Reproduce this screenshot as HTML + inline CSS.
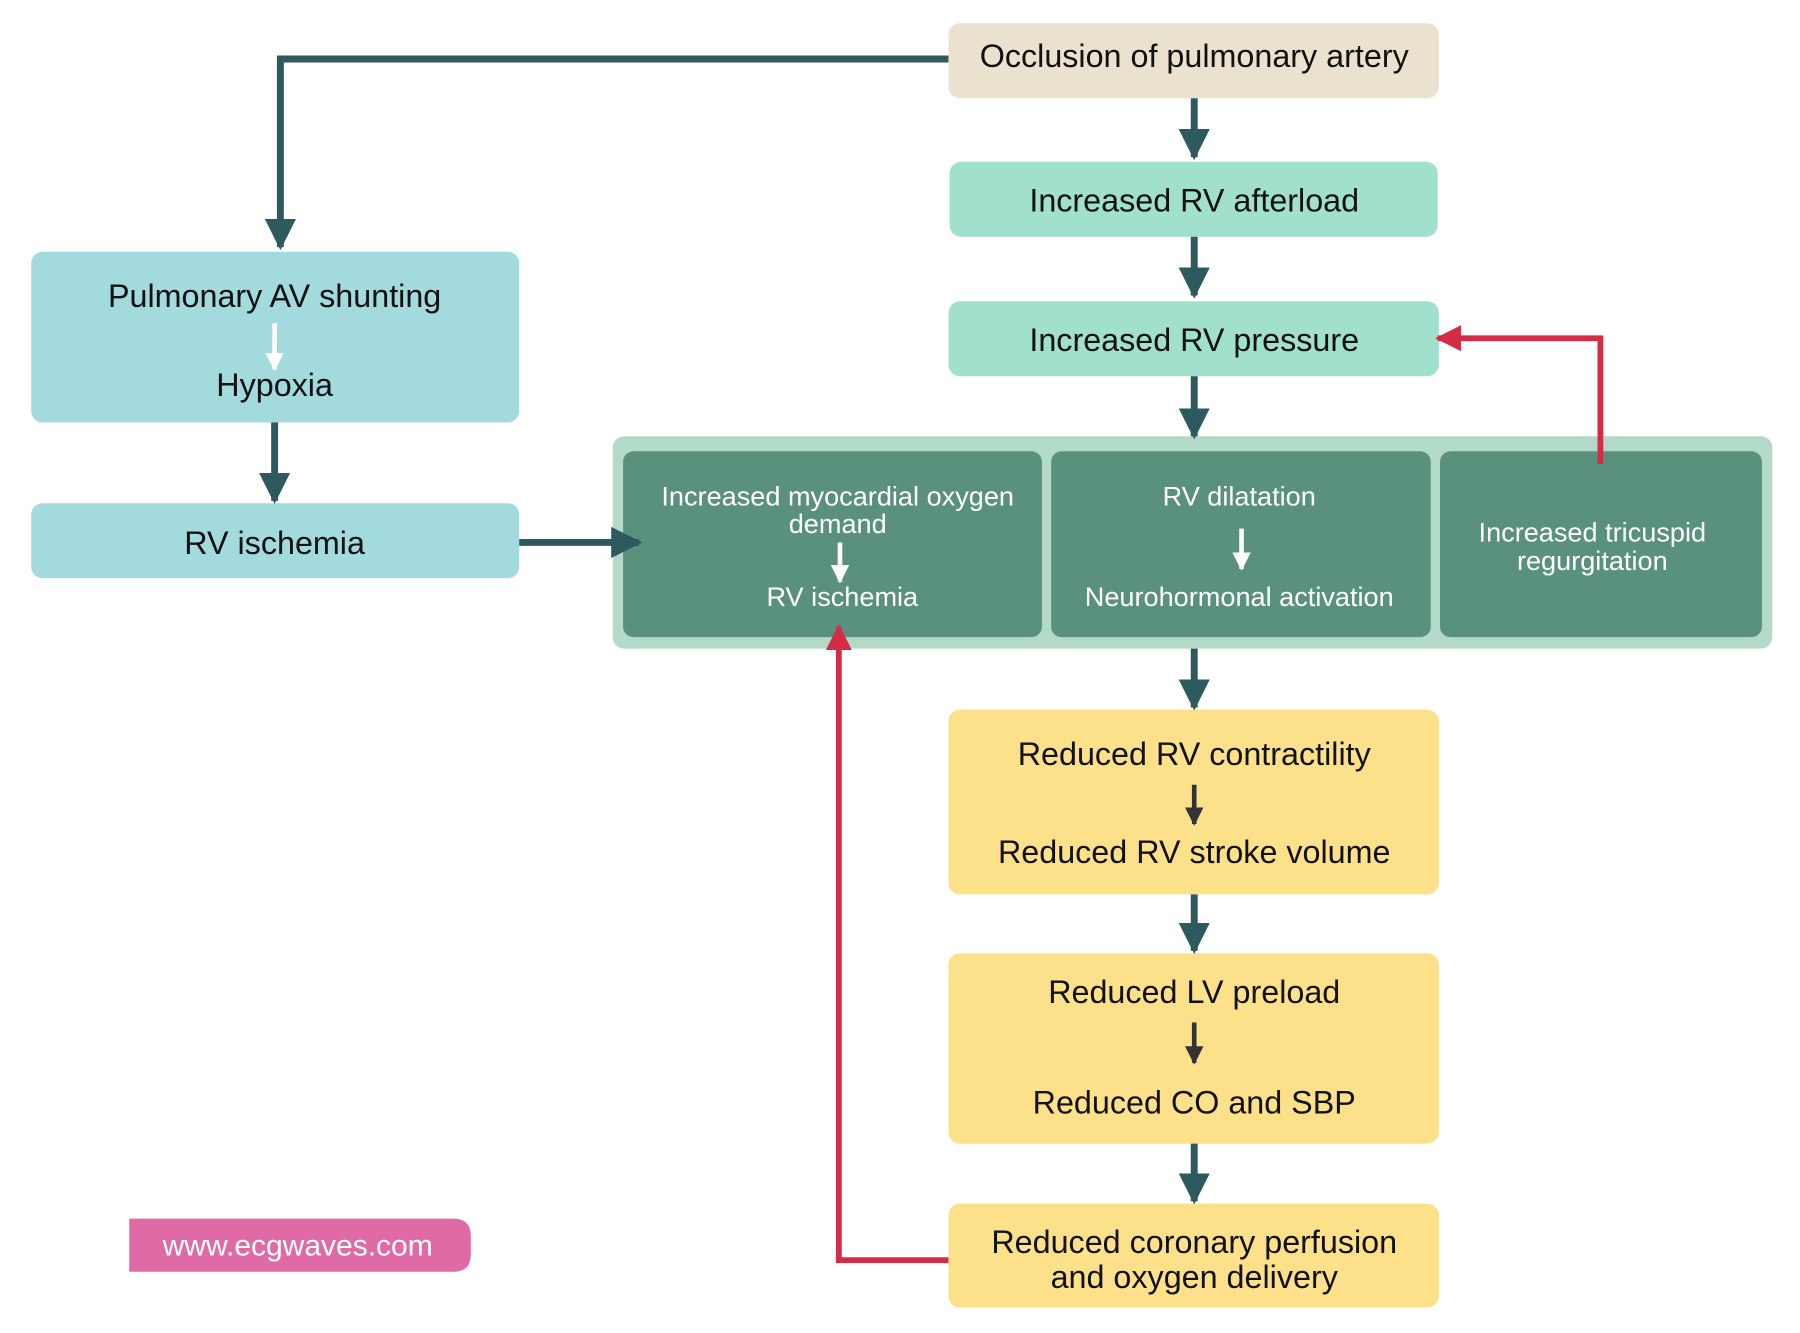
<!DOCTYPE html>
<html><head><meta charset="utf-8"><style>html,body{margin:0;padding:0;background:#fff}svg{display:block}</style></head><body>
<svg width="1800" height="1333" viewBox="0 0 1560 1155" xmlns="http://www.w3.org/2000/svg" font-family="Liberation Sans, sans-serif">
<defs>
<marker id="ad" viewBox="0 0 10 10" refX="9" refY="5" markerWidth="4.5" markerHeight="4.5" markerUnits="strokeWidth" orient="auto"><path d="M0,0L10,5L0,10z" fill="#2c5a5e"/></marker>
<marker id="ar" viewBox="0 0 10 10" refX="9" refY="5" markerWidth="4.5" markerHeight="4.5" markerUnits="strokeWidth" orient="auto"><path d="M0,0L10,5L0,10z" fill="#d42c45"/></marker>
<marker id="aw" viewBox="0 0 10 10" refX="9" refY="5" markerWidth="4" markerHeight="4" markerUnits="strokeWidth" orient="auto"><path d="M0,0L10,5L0,10z" fill="#fff"/></marker>
<marker id="ak" viewBox="0 0 10 10" refX="9" refY="5" markerWidth="4" markerHeight="4" markerUnits="strokeWidth" orient="auto"><path d="M0,0L10,5L0,10z" fill="#333"/></marker>
</defs>
<rect x="822" y="20" width="425" height="65" rx="10" fill="#ebe1cf"/>
<rect x="823" y="140" width="423" height="65" rx="10" fill="#a0e0cc"/>
<rect x="822" y="261" width="425" height="65" rx="10" fill="#a0e0cc"/>
<rect x="27" y="218" width="423" height="148" rx="10" fill="#a2dade"/>
<rect x="27" y="436" width="423" height="65" rx="10" fill="#a2dade"/>
<rect x="531" y="378" width="1005" height="184" rx="10" fill="#b3d9c8"/>
<rect x="540" y="391" width="363" height="161" rx="9" fill="#5a917c"/>
<rect x="911" y="391" width="329" height="161" rx="9" fill="#5a917c"/>
<rect x="1248" y="391" width="279" height="161" rx="9" fill="#5a917c"/>
<rect x="822" y="615" width="425" height="160" rx="10" fill="#fde08a"/>
<rect x="822" y="826" width="425" height="165" rx="10" fill="#fde08a"/>
<rect x="822" y="1043" width="425" height="90" rx="10" fill="#fde08a"/>
<path d="M112,1056H393Q408,1056 408,1071V1087Q408,1102 393,1102H112Z" fill="#e06aa6"/>
<g fill="none" stroke="#2c5a5e" stroke-width="6" marker-end="url(#ad)">
<path d="M822,51H243V214"/>
<path d="M1035,85V136"/><path d="M1035,205V256"/><path d="M1035,326V378"/>
<path d="M238,366V434"/><path d="M450,470H554"/>
<path d="M1035,562V613"/><path d="M1035,775V824"/><path d="M1035,991V1041"/>
</g>
<g fill="none" stroke-width="5">
<path d="M1387,402V293H1246" stroke="#d42c45" marker-end="url(#ar)"/>
<path d="M822,1092H727V543" stroke="#d42c45" marker-end="url(#ar)"/>
</g>
<g fill="none" stroke-width="4">
<path d="M238,280V320" stroke="#fff" marker-end="url(#aw)"/>
<path d="M728,470V504" stroke="#fff" marker-end="url(#aw)"/>
<path d="M1076,458V493" stroke="#fff" marker-end="url(#aw)"/>
<path d="M1035,680V714" stroke="#333" marker-end="url(#ak)"/>
<path d="M1035,886V921" stroke="#333" marker-end="url(#ak)"/>
</g>
<g text-anchor="middle" font-size="28" fill="#111">
<text x="1035" y="58">Occlusion of pulmonary artery</text>
<text x="1035" y="183">Increased RV afterload</text>
<text x="1035" y="304">Increased RV pressure</text>
<text x="238" y="266">Pulmonary AV shunting</text>
<text x="238" y="343">Hypoxia</text>
<text x="238" y="480">RV ischemia</text>
<text x="1035" y="663">Reduced RV contractility</text>
<text x="1035" y="748">Reduced RV stroke volume</text>
<text x="1035" y="869">Reduced LV preload</text>
<text x="1035" y="965">Reduced CO and SBP</text>
<text x="1035" y="1086">Reduced coronary perfusion</text>
<text x="1035" y="1116">and oxygen delivery</text>
</g>
<g text-anchor="middle" font-size="23.5" fill="#fff">
<text x="726" y="438">Increased myocardial oxygen</text>
<text x="726" y="462">demand</text>
<text x="730" y="525">RV ischemia</text>
<text x="1074" y="438">RV dilatation</text>
<text x="1074" y="525">Neurohormonal activation</text>
<text x="1380" y="469">Increased tricuspid</text>
<text x="1380" y="494">regurgitation</text>
<text x="258" y="1088" font-size="26">www.ecgwaves.com</text>
</g>
</svg>
</body></html>
